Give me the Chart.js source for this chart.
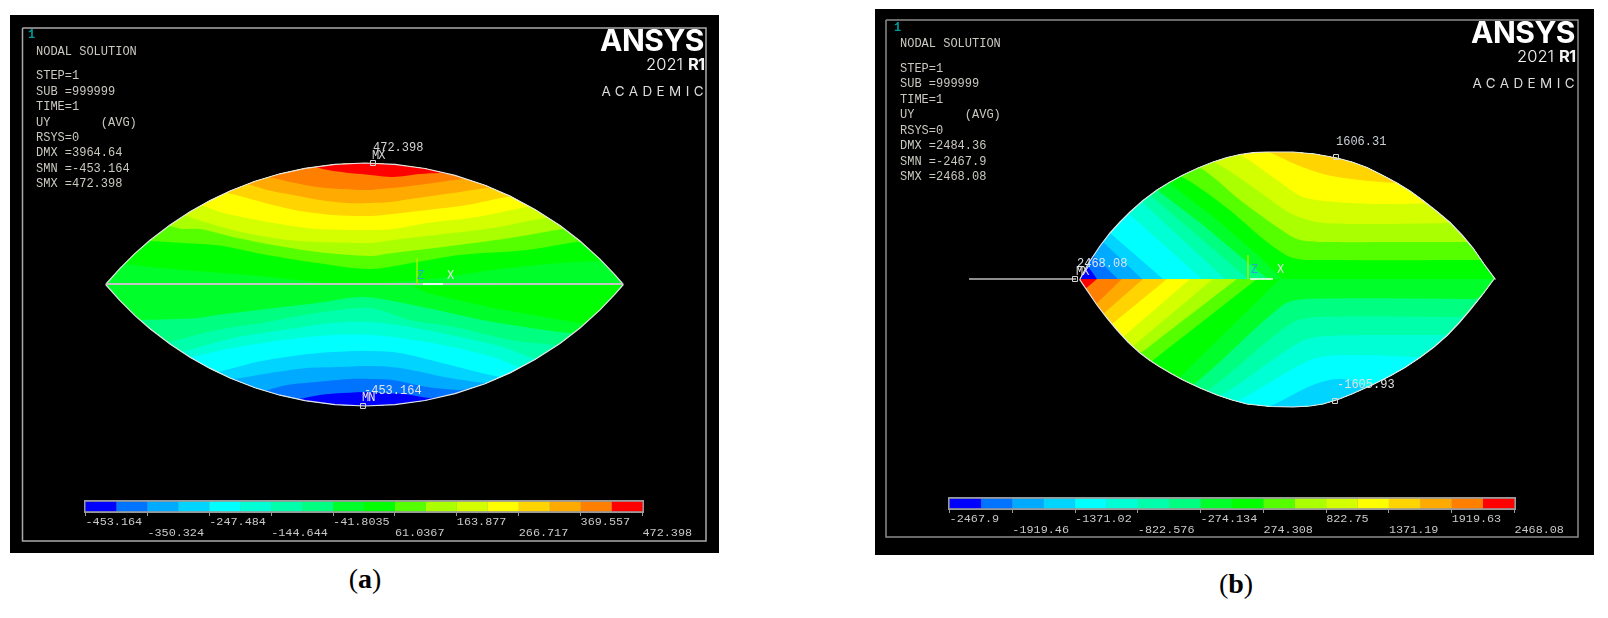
<!DOCTYPE html>
<html lang="en">
<head>
<meta charset="UTF-8">
<title>UY nodal solution</title>
<script src="https://cdn.jsdelivr.net/npm/chart.js"></script>
<style>
    body { margin: 0; background: #fff; width: 1608px; height: 618px; overflow: hidden; position: relative; }
    canvas { position: absolute; filter: blur(0.35px); }
    .panel { background: #000; }
    .caption { position: absolute; font: 28px 'Liberation Serif', serif; color: #000; transform: translate(-50%, -50%); }
</style>
</head>
<body>
<canvas id="panelA" class="panel" style="left:10px;top:15px"></canvas>
<canvas id="panelB" class="panel" style="left:875px;top:9px"></canvas>
<canvas id="barA" style="left:84px;top:500px"></canvas>
<canvas id="barB" style="left:948px;top:497px"></canvas>
<div class="caption" style="left:365px;top:579px">(<b>a</b>)</div>
<div class="caption" style="left:1236px;top:584px">(<b>b</b>)</div>

<script>
// contour colours, lowest value first
const bandColors = ['#0000ff', '#0074ff', '#00aaff', '#00d4ff', '#00ffff', '#00ffd4', '#00ffaa', '#00ff80', '#00ff2a',
    '#00ff00', '#55ff00', '#aaff00', '#d4ff00', '#ffff00', '#ffd400', '#ffaa00', '#ff7f00', '#ff0000'];

// colour bar levels, every second one is labelled
const levelsA = [-453.164, -401.744, -350.324, -298.904, -247.484, -196.064, -144.644, -93.224, -41.8035, 9.6166,
    61.0367, 112.457, 163.877, 215.297, 266.717, 318.137, 369.557, 420.977, 472.398];
const levelsB = [-2467.9, -2193.68, -1919.46, -1645.24, -1371.02, -1096.8, -822.576, -548.355, -274.134, 0.087,
    274.308, 548.53, 822.75, 1096.97, 1371.19, 1645.41, 1919.63, 2193.85, 2468.08];
const tickValuesA = [-453.164, -350.324, -247.484, -144.644, -41.8035, 61.0367, 163.877, 266.717, 369.557, 472.398];
const tickValuesB = [-2467.9, -1919.46, -1371.02, -822.576, -274.134, 274.308, 822.75, 1371.19, 1919.63, 2468.08];
const tickLabelsA = ['-453.164', '-350.324', '-247.484', '-144.644', '-41.8035', '61.0367', '163.877', '266.717', '369.557', '472.398'];
const tickLabelsB = ['-2467.9', '-1919.46', '-1371.02', '-822.576', '-274.134', '274.308', '822.75', '1371.19', '1919.63', '2468.08'];

// header text
const headerA = ['STEP=1', 'SUB =999999', 'TIME=1', 'UY       (AVG)', 'RSYS=0', 'DMX =3964.64', 'SMN =-453.164', 'SMX =472.398'];
const headerB = ['STEP=1', 'SUB =999999', 'TIME=1', 'UY       (AVG)', 'RSYS=0', 'DMX =2484.36', 'SMN =-2467.9', 'SMX =2468.08'];

// lens outlines, left to right
const lensTopA = [[-314,0],[-300,15.7],[-285,30.6],[-270,43.8],[-250,59.1],[-230,72.2],[-210,83.4],[-190,93],[-165,102.7],[-140,110.2],[-115,115.7],[-85,119.7],[-55,121],[-25,119.6],[5,115.5],[35,108.6],[65,98.7],[90,87.9],[115,74.6],[140,58.4],[160,43],[180,24.9],[195,9.2],[203,0]];
const lensBottomA = [[-314,-1],[-300,-16.7],[-285,-31.6],[-270,-44.8],[-250,-60.1],[-230,-73.2],[-210,-84.4],[-190,-94],[-165,-103.7],[-140,-111.2],[-115,-116.7],[-85,-120.7],[-55,-122],[-25,-120.6],[5,-116.5],[35,-109.6],[65,-99.7],[90,-88.9],[115,-75.6],[140,-59.4],[160,-44],[180,-25.9],[195,-10.2],[203,-1]];
const lensTopB = [[-200,0],[-192,15],[-180,33],[-170,46],[-160,57],[-150,67],[-137,78.5],[-123,89],[-110,97],[-97,104],[-82,111],[-67,117],[-53,121.5],[-40,124.5],[-27,126.3],[-13,127],[13,127],[35,125],[57,121],[72,117],[87,111.5],[102,104],[117,96],[130,88],[143,78.5],[157,67.5],[170,56.5],[182,44],[193,31],[204,15],[215,0]];
const lensBottomB = [[-200,-1],[-183,-26],[-173,-39],[-163,-51],[-152,-63],[-140,-74],[-130,-81.5],[-120,-88],[-108,-95],[-97,-101],[-80,-109],[-63,-116],[-48,-121],[-33,-125],[-10,-127.5],[13,-128],[30,-127],[43,-125],[58,-120.5],[73,-114.5],[92,-106],[110,-97],[125,-88.5],[140,-78.5],[154,-68],[167,-56.5],[179,-44],[190,-31],[203,-15],[214,0]];

// iso lines of panel a above the axis, colours 9..17 lie above each line
const isoTopA = [
    [[-295,20],[-270,17],[-237,14],[-210,12],[-160,8],[-80,0],[3,4],[73,14],[140,21],[181,23]],
    [[-270,43],[-253,42],[-220,40],[-197,38],[-153,29],[-103,21],[-50,15],[-3,22],[40,29],[107,34],[157,42]],
    [[-252,58],[-237,55],[-220,55],[-187,47],[-147,39],[-103,32],[-50,28],[-27,31],[23,37],[90,46],[143,55]],
    [[-237,69],[-222,64],[-187,54],[-153,47],[-120,43],[-50,41],[-27,44],[23,50],[73,56],[125,66]],
    [[-220,79],[-200,72],[-173,66],[-140,60],[-103,55],[-50,54],[-27,55],[7,61],[57,67],[107,77]],
    [[-193,91],[-173,86],[-147,79],[-120,73],[-87,69],[-50,68],[-27,70],[7,74],[47,79],[87,87]],
    [[-173,100],[-153,94],[-127,89],[-100,84],[-73,81],[-50,81],[-30,82],[-3,86],[33,91],[67,96]],
    [[-152,107],[-130,102],[-103,97],[-77,95],[-50,94],[-40,95],[-17,97],[13,101],[43,105]],
    [[-107,117],[-87,113],[-50,109],[-27,107],[0,110],[20,111]]
];
// pure green wedge under the axis on the right of panel a
const wedgeA = [[-7,-2],[7,-9],[73,-24],[165,-40],[205,-40],[205,-1]];
// iso lines of panel a below the axis, colours 7..0 lie below each line
const isoBottomA = [
    [[-278,-36],[-223,-34],[-203,-31],[-153,-25],[-103,-19],[-56,-13],[7,-24],[73,-38],[155,-50]],
    [[-252,-58],[-203,-46],[-153,-38],[-103,-29],[-50,-24],[-10,-36],[40,-44],[90,-56],[137,-61]],
    [[-240,-68],[-187,-54],[-137,-46],[-87,-39],[-50,-38],[-10,-43],[40,-53],[83,-63],[113,-74]],
    [[-230,-73],[-187,-64],[-137,-56],[-87,-51],[-50,-51],[-27,-53],[23,-61],[73,-73],[100,-83]],
    [[-203,-88],[-163,-78],[-120,-71],[-87,-68],[-50,-67],[-20,-69],[30,-81],[80,-93]],
    [[-187,-95],[-150,-89],[-113,-84],[-80,-83],[-50,-82],[-20,-84],[30,-94],[65,-99]],
    [[-157,-107],[-133,-101],[-103,-98],[-70,-95],[-50,-95],[-27,-96],[7,-103],[38,-106]],
    [[-122,-115],[-100,-111],[-77,-109],[-50,-108],[-43,-109],[-17,-110],[10,-114]]
];
// iso lines of panel b above the axis, colours 1..14 lie above/right of each line
const isoTopB = [
    [[-193,14],[-183,0],[220,0]],
    [[-187,24],[-162,0],[220,0]],
    [[-177,37],[-138,0],[220,0]],
    [[-170,46],[-117,0],[220,0]],
    [[-152,66],[-78,0],[220,0]],
    [[-138,77],[-55,0],[220,0]],
    [[-130,84],[-32,0],[220,0]],
    [[-123,89],[-77,54],[-33,17],[-12,0],[220,0]],
    [[-112,97],[-63,59],[-20,22],[2,0],[220,0]],
    [[-98,102],[-53,71],[-13,37],[13,21],[47,19],[210,19]],
    [[-78,110],[-40,79],[-3,52],[20,39],[53,37],[113,37],[197,37]],
    [[-66,117],[-23,89],[10,66],[37,57],[80,55],[183,56]],
    [[-40,124],[-3,99],[23,82],[57,77],[97,75],[168,76]],
    [[-12,127],[17,114],[47,104],[80,99],[115,96]]
];
// iso lines of panel b below the axis, colours 16..3 lie below/right of each line
const isoBottomB = [
    [[-196,-11],[-183,0],[220,0]],
    [[-185,-26],[-158,0],[220,0]],
    [[-177,-35],[-137,0],[220,0]],
    [[-168,-45],[-113,0],[220,0]],
    [[-157,-58],[-90,0],[220,0]],
    [[-148,-68],[-67,0],[220,0]],
    [[-138,-73],[-43,0],[220,0]],
    [[-128,-82],[-23,0],[220,0]],
    [[-102,-100],[0,0],[220,0]],
    [[-87,-106],[3,-26],[27,-20],[193,-20]],
    [[-73,-112],[10,-45],[37,-38],[178,-38]],
    [[-60,-117],[20,-63],[47,-57],[163,-56]],
    [[-43,-122],[30,-81],[63,-76],[142,-78]],
    [[-10,-127],[33,-106],[63,-100],[100,-113]]
];
const fullAxis = [[-320, 0], [320, 0]];

const MONO = "'Liberation Mono', monospace";

function pts(list) {
    return list.map(p => ({ x: p[0], y: p[1] }));
}

// closes an iso line upward or downward, the lens clip trims the rest
function closeLine(line, dir) {
    const first = line[0], last = line[line.length - 1];
    const edge = dir * 150;
    return [[first[0], edge], [first[0] - 14, edge], [first[0] - 14, first[1]]].concat(line, [[last[0] + 14, last[1]], [last[0] + 14, edge]]);
}

function layer(points, colorIndex, tension) {
    return { data: pts(points), showLine: true, fill: 'shape', borderWidth: 0, pointRadius: 0, tension: tension || 0, backgroundColor: bandColors[colorIndex] };
}

function stroke(points, color, width) {
    return { data: pts(points), showLine: true, fill: false, borderColor: color, borderWidth: width, pointRadius: 0, tension: 0 };
}

function node(point) {
    return { data: pts([point]), showLine: false, pointStyle: 'rect', pointRadius: 3.5, pointBackgroundColor: 'rgba(0,0,0,0)', pointBorderColor: '#d8d8d8', pointBorderWidth: 1 };
}

// lines that run into the axis keep their corner, the others get rounded
function isoLayer(line, dir, colorIndex) {
    const hitsAxis = line[line.length - 1][1] === 0;
    return layer(closeLine(line, dir), colorIndex, hitsAxis ? 0 : 0.3);
}

function text(ctx, str, x, y, font, color, align, spacing) {
    ctx.font = font;
    ctx.fillStyle = color;
    ctx.textAlign = align || 'left';
    ctx.textBaseline = 'middle';
    ctx.letterSpacing = spacing || '0px';
    ctx.fillText(str, x, y);
    ctx.letterSpacing = '0px';
}

function panelChart(id, cfg) {
    const canvas = document.getElementById(id);
    canvas.width = cfg.width;
    canvas.height = cfg.height;

    const lens = cfg.lensTop.concat(cfg.lensBottom.slice().reverse());
    // Chart.js paints the last dataset first, so the painter order gets reversed
    const contours = cfg.layers.slice().reverse();
    const marks = cfg.marks.concat([stroke(lens.concat([lens[0]]), '#e4e4e4', 1.2)]);

    const clipLens = {
        id: 'clipLens',
        beforeDatasetsDraw(chart) {
            const { ctx, scales } = chart;
            ctx.save();
            ctx.beginPath();
            lens.forEach((p, i) => {
                const x = scales.x.getPixelForValue(p[0]), y = scales.y.getPixelForValue(p[1]);
                if (i === 0) ctx.moveTo(x, y); else ctx.lineTo(x, y);
            });
            ctx.closePath();
            ctx.clip();
        },
        afterDatasetDraw(chart, args) {
            if (args.index === marks.length) chart.ctx.restore();
        }
    };
    const labels = {
        id: 'labels',
        afterDraw(chart) {
            cfg.drawText(chart.ctx, (px, py, str, font, color, align, spacing) => text(chart.ctx, str, px - cfg.left, py - cfg.top, font, color, align, spacing));
        }
    };

    return new Chart(canvas, {
        type: 'scatter',
        data: { datasets: marks.concat(contours) },
        options: {
            responsive: false,
            animation: false,
            layout: { padding: 0, autoPadding: false },
            plugins: { legend: { display: false }, tooltip: { enabled: false } },
            scales: {
                x: { type: 'linear', display: false, min: cfg.xMin, max: cfg.xMax },
                y: { type: 'linear', display: false, min: cfg.yMin, max: cfg.yMax }
            }
        },
        plugins: [clipLens, labels]
    });
}

function colorBar(id, levels, tickValues, tickLabels, width, pad) {
    const canvas = document.getElementById(id);
    canvas.width = width;
    canvas.height = 46;
    const min = levels[0] - pad, max = levels[levels.length - 1] + pad;
    const cells = bandColors.map((color, i) => ({
        data: [[levels[i], levels[i + 1]]], backgroundColor: color, grouped: false, barPercentage: 0.72, categoryPercentage: 1
    }));
    cells.push({ data: [[min, max]], backgroundColor: '#9a9a9a', grouped: false, barPercentage: 1, categoryPercentage: 1 });
    return new Chart(canvas, {
        type: 'bar',
        data: { labels: ['UY'], datasets: cells },
        options: {
            indexAxis: 'y',
            responsive: false,
            animation: false,
            layout: { padding: { right: 60, left: 0, top: 0, bottom: 0 }, autoPadding: false },
            plugins: { legend: { display: false }, tooltip: { enabled: false } },
            scales: {
                y: { display: false },
                x: {
                    type: 'linear', min: min, max: max,
                    afterBuildTicks: scale => { scale.ticks = tickValues.map(v => ({ value: v })); },
                    afterFit: scale => { scale.height = 33; },
                    border: { display: false },
                    grid: { drawOnChartArea: false, tickLength: 3, tickColor: '#9a9a9a', tickWidth: 1 },
                    ticks: {
                        autoSkip: false, maxRotation: 0, minRotation: 0, align: 'start', padding: 0,
                        color: '#c9c9c9', font: { family: MONO, size: 11.8, lineHeight: 0.97 },
                        callback: (v, i) => i % 2 ? ['', tickLabels[i]] : [tickLabels[i]]
                    }
                }
            }
        }
    });
}

function drawLogo(put, right, y) {
    put(right, y + 11, 'ANSYS', "700 30px Inter, sans-serif", '#fff', 'right', '-0.5px');
    put(right - 21, y + 34, '2021', "300 16.5px Inter, sans-serif", '#f4f4f4', 'right');
    put(right, y + 34, 'R1', "700 16.5px Inter, sans-serif", '#f4f4f4', 'right', '-1px');
    put(right + 4, y + 61, 'ACADEMIC', "400 13.5px Inter, sans-serif", '#dcdcdc', 'right', '4.4px');
}

function drawHeader(put, header, x, titleY, firstY, step) {
    const font = '12px ' + MONO, color = '#cbc8c0';
    put(x, titleY, 'NODAL SOLUTION', font, color);
    header.forEach((line, i) => put(x, firstY + i * step, line, font, color));
}

panelChart('panelA', {
    left: 10, top: 15, width: 709, height: 538,
    xMin: -410, xMax: 299, yMin: -269, yMax: 269,
    lensTop: lensTopA, lensBottom: lensBottomA,
    layers: [layer(closeLine(fullAxis, 1), 8), layer(closeLine(fullAxis, -1), 8)]
        .concat(isoTopA.map((line, i) => isoLayer(line, 1, 9 + i)))
        .concat([layer(wedgeA, 9)])
        .concat(isoBottomA.map((line, i) => isoLayer(line, -1, 7 - i))),
    marks: [
        node([-47, 121]), node([-57, -122]),
        stroke([[-397.5, 256], [286, 256], [286, -257], [-397.5, -257], [-397.5, 256]], '#aaaaaa', 1.5),
        stroke([[3, 0], [23, 0]], '#ffffff', 1.5),
        stroke([[-3, 0], [-3, 26]], '#a4f000', 1.5),
        stroke([[-314, 0], [203, 0]], '#c4c4c4', 2)
    ],
    drawText(ctx, put) {
        const white = '#e4e4e4', font = '12px ' + MONO;
        put(28, 35, '1', 'bold 12px ' + MONO, '#009a9a');
        drawHeader(put, headerA, 36, 52, 76, 15.45);
        drawLogo(put, 704, 31);
        put(373, 148, '472.398', font, '#d4d4d4');
        put(372, 156, 'MX', font, '#d4d4d4', 'left', '-1px');
        put(364, 391, '-453.164', font, white);
        put(362, 398, 'MN', font, white, 'left', '-1px');
        put(447, 276, 'X', font, white);
        put(417, 276, 'Z', font, '#2aa8c8');
    }
});

panelChart('panelB', {
    left: 875, top: 9, width: 719, height: 546,
    xMin: -405, xMax: 314, yMin: -276, yMax: 270,
    lensTop: lensTopB, lensBottom: lensBottomB,
    layers: [layer(closeLine(fullAxis, 1), 0), layer(closeLine(fullAxis, -1), 17)]
        .concat(isoTopB.map((line, i) => isoLayer(line, 1, 1 + i)))
        .concat(isoBottomB.map((line, i) => isoLayer(line, -1, 16 - i))),
    marks: [
        node([56, 122]), node([55, -122]), node([-205, 0]),
        stroke([[-394, 259], [298, 259], [298, -258], [-394, -258], [-394, 259]], '#8c8c8c', 1.5),
        stroke([[-30, 0], [-7, 0]], '#ffffff', 1.5),
        stroke([[-32, 0], [-32, 24]], '#a4f000', 1.5),
        stroke([[-311, 0], [-204, 0]], '#bdbdbd', 1.5)
    ],
    drawText(ctx, put) {
        const white = '#e0e0e0', font = '12px ' + MONO;
        put(894, 28, '1', 'bold 12px ' + MONO, '#009a9a');
        drawHeader(put, headerB, 900, 44, 68.5, 15.5);
        drawLogo(put, 1575, 23);
        put(1336, 142, '1606.31', font, '#c8d0d4');
        put(1337, 385, '-1605.93', font, white);
        put(1077, 264, '2468.08', font, '#d8e8f0');
        put(1076, 272, 'MX', font, white, 'left', '-1px');
        put(1277, 270, 'X', font, white);
        put(1251, 270, 'Z', font, '#2aa8c8');
    }
});

colorBar('barA', levelsA, tickValuesA, tickLabelsA, 620, 2.5);
colorBar('barB', levelsB, tickValuesB, tickLabelsB, 628, 14);
</script>
</body>
</html>
